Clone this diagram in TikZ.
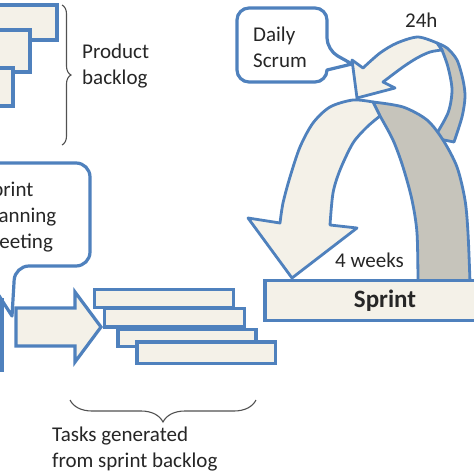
\documentclass[tikz,border=0pt]{standalone}
\usepackage{fontspec}
\setmainfont{Carlito}
\usepackage{tikz}
\usetikzlibrary{decorations.pathreplacing}
\definecolor{scrumblue}{HTML}{4F81BD}
\definecolor{scrumfill}{HTML}{F4F1E8}
\definecolor{scrumgray}{HTML}{C6C4BB}
\definecolor{scrumtext}{HTML}{262626}
\tikzset{box/.style = {draw=scrumblue, fill=scrumfill, line width=3.2pt, inner sep=0}}
\tikzset{band/.style = {draw=scrumblue, line width=2.8pt, line join=round}}
\tikzset{callout/.style = {draw=scrumblue, fill=white, line width=3.2pt, line join=round}}
\tikzset{lbl/.style = {font=\fontsize{21}{26}\selectfont, text=scrumtext, inner sep=0, align=left, anchor=base west}}
\tikzset{curly/.style = {decorate, decoration={brace, amplitude=#1}, draw=scrumtext!80, line width=1.1pt}}

\begin{document}
\begin{tikzpicture}[x=1pt, y=-1pt]
      \useasboundingbox [fill=white] (0, 0) rectangle (474, 474);

      \node [box, minimum width=87, minimum height=35] (pb1) at (13.5, 22.5) {};
      \node [box, minimum width=60, minimum height=42] (pb2) at (0, 51) {};
      \node [box, minimum width=43, minimum height=38] (pb3) at (-8.5, 87) {};
      \draw [curly=9] (62, 5) -- (62, 145);
      \node [lbl] (pbtext) at (82, 84) {Product\\backlog};

      \filldraw [callout, rounded corners=14pt] (30, 163) -- (90, 163) -- (90, 266)
        -- (15, 266) [sharp corners] -- (12, 316) -- (-20, 266) -- (-60, 266) -- (-60, 163) -- cycle;
      \node [lbl] (planning) at (-17.5, 248) {Sprint\\planning\\meeting};
      \draw [band, line width=3.2pt] (2, 298) -- (2, 372);

      \filldraw [box, line join=miter] (16, 308) -- (75, 308) -- (75, 292) -- (101, 327)
        -- (75, 362) -- (75, 346) -- (16, 346) -- cycle;

      \node [box, minimum width=139, minimum height=18] (task1) at (164.2, 298.2) {};
      \node [box, minimum width=139.6, minimum height=18.3] (task2) at (174.5, 317.9) {};
      \node [box, minimum width=138, minimum height=17] (task3) at (187, 337.7) {};
      \node [box, minimum width=138.3, minimum height=21.7] (task4) at (206.2, 352.9) {};
      \draw [curly=22, decoration={mirror}] (70, 400) -- (256, 400);
      \node [lbl] (tasks) at (52, 467) {Tasks generated\\from sprint backlog};

      \filldraw [band, fill=scrumgray] plot [smooth] coordinates {(437, 43) (447, 48) (457, 60) (463, 80) (465, 97) (462, 117) (454, 142)}
        -- (434, 138) -- plot [smooth] coordinates {(434, 138) (448, 113) (452, 90) (448, 67) (442, 50)} -- cycle;
      \filldraw [band, fill=scrumfill] plot [smooth] coordinates {(363, 68) (380, 53) (397, 43) (418, 37) (437, 43)}
        -- (442, 50) -- plot [smooth] coordinates {(442, 50) (430, 52) (417, 58) (403, 67) (383, 82)}
        -- (395, 88) -- (357, 98) -- (352, 60) -- cycle;

      \filldraw [band, fill=scrumgray] plot [smooth] coordinates {(373, 102) (403, 107) (427, 120) (443, 140) (457, 167) (465, 200) (468, 233) (470, 282)}
        -- (418, 282) -- plot [smooth] coordinates {(418, 282) (417, 233) (412, 200) (403, 167) (393, 140) (380, 116)} -- cycle;
      \filldraw [band, fill=scrumfill] plot [smooth] coordinates {(373, 102) (353, 100) (330, 107) (313, 123) (300, 147) (290, 177) (283, 203) (280, 223)}
        -- (248, 218) -- (292, 278) -- (357, 228) -- (330, 225)
        -- plot [smooth] coordinates {(330, 225) (333, 193) (340, 170) (353, 143) (367, 127) (380, 116)} -- cycle;

      \filldraw [callout, rounded corners=12pt] (280, 8) -- (327, 8) -- (327, 50) [sharp corners]
        -- (352, 64) -- (327, 70) [rounded corners=12pt] -- (327, 82) -- (237, 82) -- (237, 8) -- cycle;
      \node [lbl] (daily) at (253, 67) {Daily\\Scrum};
      \node [lbl] (day) at (405, 27) {24h};

      \node [box, minimum width=240, minimum height=40, font=\fontsize{25}{30}\selectfont\bfseries, text=scrumtext] (sprint) at (385, 300.3) {Sprint};
      \node [lbl] (weeks) at (335, 267) {4 weeks};
    \end{tikzpicture}
\end{document}
